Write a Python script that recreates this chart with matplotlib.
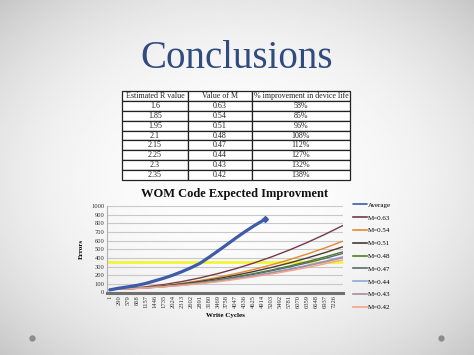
import matplotlib
matplotlib.use("Agg")
import matplotlib.pyplot as plt
import numpy as np

plt.rcParams['font.family'] = ['Liberation Serif', 'DejaVu Serif']

# table data
r_values = ['1.6', '1.85', '1.95', '2.1', '2.15', '2.25', '2.3', '2.35']
m_values = ['0.63', '0.54', '0.51', '0.48', '0.47', '0.44', '0.43', '0.42']
improvement = ['58%', '85%', '96%', '108%', '112%', '127%', '132%', '138%']
table_header = ['Estimated R value', 'Value of M', '% improvement in device life']

# chart data
tick_cycles = list(range(1, 7227, 289))
avg_cycles = [1, 290, 579, 868, 1157, 1446, 1735, 2024, 2313, 2602, 2891,
              3180, 3469, 3758, 4047, 4336, 4625, 4914, 4978]
avg_errors = [30, 50, 65, 82, 105, 135, 165, 200, 240, 285, 335,
              405, 478, 552, 628, 700, 768, 830, 848]

m_cycles = [1, 579, 1157, 1735, 2313, 2891, 3469, 4047, 4625, 5203, 5781, 6359, 6937, 7500]
m063 = [42, 46, 65, 92, 126, 168, 218, 275, 340, 412, 492, 580, 675, 775]
m054 = [42, 44, 59, 80, 106, 138, 175, 218, 266, 320, 380, 446, 517, 594]
m051 = [42, 44, 57, 75, 99, 127, 160, 199, 242, 290, 342, 400, 463, 529]
m048 = [42, 43, 55, 71, 92, 117, 147, 180, 218, 260, 307, 358, 413, 471]
m047 = [42, 43, 54, 70, 90, 114, 142, 174, 210, 251, 295, 344, 396, 452]
m044 = [42, 42, 53, 67, 86, 108, 133, 162, 195, 232, 272, 316, 364, 414]
m043 = [42, 42, 53, 67, 84, 106, 130, 159, 191, 226, 265, 308, 354, 402]
m042 = [42, 42, 52, 65, 81, 101, 124, 151, 181, 214, 250, 290, 333, 378]
threshold = 350

series = [('M=0.63', m063, '#74394a'),
          ('M=0.54', m054, '#e38b2c'),
          ('M=0.51', m051, '#4a3a32'),
          ('M=0.48', m048, '#4f7f2b'),
          ('M=0.47', m047, '#5c6a6a'),
          ('M=0.44', m044, '#8fa8d6'),
          ('M=0.43', m043, '#a58e9e'),
          ('M=0.42', m042, '#f0a58c')]

W, H = 474, 355
fig = plt.figure(figsize=(W / 100, H / 100), dpi=100)

# slide background
bg = fig.add_axes([0, 0, 1, 1], zorder=-10)
yy, xx = np.mgrid[-1:1:200j, -1:1:260j]
shade = 0.99 - 0.085 * (xx ** 2 + yy ** 2) ** 1.3
bg.imshow(shade, cmap='gray', vmin=0, vmax=1, aspect='auto', extent=[0, 1, 0, 1])
bg.plot([32 / W, 441 / W], [1 - 338 / H, 1 - 338 / H], 'o', color='#8c8c8c', ms=3.5)
bg.set_xlim(0, 1)
bg.set_ylim(0, 1)
bg.axis('off')

fig.text(237 / W, 1 - 59 / H, 'Conclusions', fontsize=28, color='#2f4b80',
         ha='center', va='center')

# table
tax = fig.add_axes([122 / W, 1 - 180 / H, 228 / W, 89 / H])
tax.axis('off')
rows = [[r, m, p] for r, m, p in zip(r_values, m_values, improvement)]
tbl = tax.table(cellText=rows, colLabels=table_header, colWidths=[66, 64, 98],
                cellLoc='center', bbox=[0, 0, 1, 1])
tbl.auto_set_font_size(False)
tbl.set_fontsize(5.8)
for cell in tbl.get_celld().values():
    cell.set_edgecolor('#222222')
    cell.set_linewidth(0.9)
    cell.set_facecolor('white')
    cell.get_text().set_color('#222222')

# chart
ax = fig.add_axes([107 / W, 1 - 292.5 / H, 236 / W, 86.5 / H])
ax.set_facecolor('none')
ax.axhline(threshold, color='#f4f43c', lw=2.0, zorder=2)
for name, vals, col in series:
    ax.plot(m_cycles, vals, color=col, lw=1.0, label=name, zorder=3)
avg_line, = ax.plot(avg_cycles, avg_errors, color='#3d5ba8', lw=2.3,
                    solid_capstyle='round', label='Average', zorder=4)
ax.plot(avg_cycles[-1:], avg_errors[-1:], 'D', color='#3d5ba8', ms=3, zorder=4)

ax.set_xlim(-90, 7500)
ax.set_ylim(0, 1000)
ax.set_yticks(range(0, 1001, 100))
ax.set_xticks(tick_cycles)
ax.set_xticklabels([str(t) for t in tick_cycles], rotation=90)
ax.tick_params(axis='both', length=0, labelsize=4.7, colors='#333333', pad=2)
ax.grid(axis='y', color='#c8c8c8', lw=0.8)
ax.set_axisbelow(True)
for s in ['top', 'right']:
    ax.spines[s].set_visible(False)
ax.spines['left'].set_color('#b0b0b0')
ax.spines['left'].set_linewidth(0.8)
ax.spines['bottom'].set_color('#707070')
ax.spines['bottom'].set_linewidth(2.2)

ax.set_xlabel('Write Cycles', fontsize=5, fontweight='bold', labelpad=3)
ax.set_ylabel('Errors', fontsize=5, fontweight='bold', labelpad=5)
fig.text(235 / W, 1 - 194 / H, 'WOM Code Expected Improvment', fontsize=9,
         fontweight='bold', ha='center', va='center', color='#111111')

handles = [avg_line] + ax.get_lines()[1:1 + len(series)]
labels = ['Average'] + [s[0] for s in series]
leg = fig.legend(handles, labels, loc='upper left',
                 bbox_to_anchor=(353 / W, 1 - 202 / H), frameon=False,
                 fontsize=5, handlelength=2.0, handletextpad=0.15,
                 labelspacing=1.0, borderpad=0, borderaxespad=0)
for ln in leg.get_lines():
    ln.set_linewidth(1.2)

fig.savefig('out.png', dpi=100)
